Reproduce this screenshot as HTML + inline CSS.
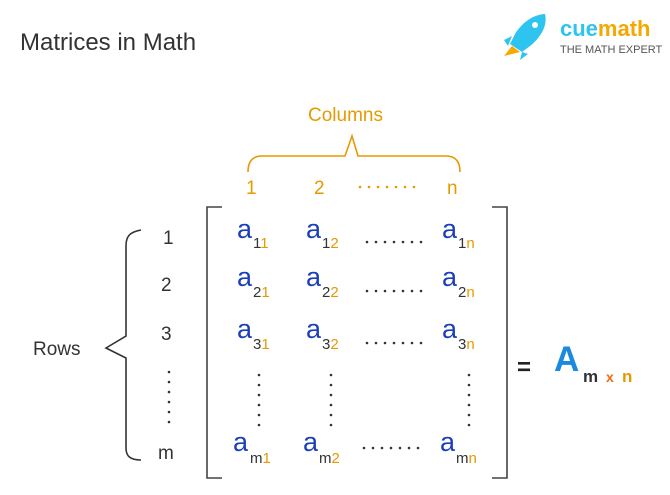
<!DOCTYPE html>
<html><head><meta charset="utf-8"><style>
html,body{margin:0;padding:0;background:#fff;}
svg{display:block}
text{font-family:"Liberation Sans",sans-serif}
</style></head><body>
<svg width="670" height="495" viewBox="0 0 670 495" xmlns="http://www.w3.org/2000/svg" xmlns:xlink="http://www.w3.org/1999/xlink">
<defs>
<g id="vd"><circle cx="0" cy="375" r="1.3"/><circle cx="0" cy="385" r="1.3"/><circle cx="0" cy="395" r="1.3"/><circle cx="0" cy="405" r="1.3"/><circle cx="0" cy="415" r="1.3"/><circle cx="0" cy="425" r="1.3"/></g>
<g id="hd"><circle cx="0" cy="0" r="1.3"/><circle cx="9" cy="0" r="1.3"/><circle cx="18" cy="0" r="1.3"/><circle cx="27" cy="0" r="1.3"/><circle cx="36" cy="0" r="1.3"/><circle cx="45" cy="0" r="1.3"/><circle cx="54" cy="0" r="1.3"/></g>
</defs>
<rect width="670" height="495" fill="#fff"/>
<text x="20" y="50" font-size="24" fill="#333">Matrices in Math</text>
<!-- logo -->
<g>
<path d="M545 14 C535 14 522 22 515 34 L510 44 L522 52 L530 46 C540 38 548 26 545 14 Z" fill="#2ec4f0"/>
<path d="M512 36 L504 40 L508 46 Z" fill="#2ec4f0"/>
<path d="M522 52 L520 60 L528 54 Z" fill="#2ec4f0"/>
<circle cx="535" cy="25" r="3" fill="#fff"/>
<path d="M512 46 L504 56 L520 52 Z" fill="#f7a800"/>
<text x="560" y="36" font-size="22" font-weight="bold" fill="#2ec4f0">cue<tspan fill="#f7a800">math</tspan></text>
<text x="560" y="53" font-size="11" fill="#555">THE MATH EXPERT</text>
</g>
<!-- Columns -->
<text x="308" y="121" font-size="19" fill="#e59a00">Columns</text>
<path d="M248 172 C248 162 252 156 262 156 L345 156 L352 136 L358 156 L446 156 C456 156 460 162 460 172" fill="none" stroke="#e59a00" stroke-width="1.6"/>
<g font-size="19" fill="#e59a00">
<text x="246" y="194">1</text><text x="314" y="194">2</text><text x="447" y="194">n</text>
</g>
<use xlink:href="#hd" href="#hd" x="360" y="187" fill="#e59a00"/>
<!-- Rows -->
<text x="33" y="355" font-size="19" fill="#333">Rows</text>
<path d="M141 230 C130 232 126 236 126 246 L126 336 L106 348 L126 358 L126 448 C126 456 130 460 141 460" fill="none" stroke="#333" stroke-width="1.6"/>
<g font-size="19" fill="#333">
<text x="163" y="244">1</text><text x="161" y="291">2</text><text x="161" y="340">3</text><text x="158" y="459">m</text>
</g>
<use xlink:href="#vd" href="#vd" x="169" y="-3" fill="#333"/>
<!-- brackets -->
<path d="M222 207 L207 207 L207 478 L222 478" fill="none" stroke="#444" stroke-width="1.6"/>
<path d="M492 207 L507 207 L507 478 L492 478" fill="none" stroke="#444" stroke-width="1.6"/>
<!-- entries -->
<g font-size="27" fill="#1a3fb8">
<text x="237" y="238">a</text><text x="306" y="238">a</text><text x="442" y="238">a</text>
<text x="237" y="286">a</text><text x="306" y="286">a</text><text x="442" y="286">a</text>
<text x="237" y="338">a</text><text x="306" y="338">a</text><text x="442" y="338">a</text>
<text x="233" y="451">a</text><text x="303" y="451">a</text><text x="440" y="451">a</text>
</g>
<g font-size="15" fill="#333">
<text x="253" y="248">1<tspan fill="#e59a00">1</tspan></text>
<text x="322" y="248">1<tspan fill="#e59a00">2</tspan></text>
<text x="458" y="248">1<tspan fill="#e59a00">n</tspan></text>
<text x="253" y="297">2<tspan fill="#e59a00">1</tspan></text>
<text x="322" y="297">2<tspan fill="#e59a00">2</tspan></text>
<text x="458" y="297">2<tspan fill="#e59a00">n</tspan></text>
<text x="253" y="349">3<tspan fill="#e59a00">1</tspan></text>
<text x="322" y="349">3<tspan fill="#e59a00">2</tspan></text>
<text x="458" y="349">3<tspan fill="#e59a00">n</tspan></text>
<text x="250" y="463">m<tspan fill="#e59a00">1</tspan></text>
<text x="319" y="463">m<tspan fill="#e59a00">2</tspan></text>
<text x="456" y="463">m<tspan fill="#e59a00">n</tspan></text>
</g>
<g fill="#333">
<use xlink:href="#hd" href="#hd" x="367" y="242"/>
<use xlink:href="#hd" href="#hd" x="367" y="291"/>
<use xlink:href="#hd" href="#hd" x="367" y="343"/>
<use xlink:href="#hd" href="#hd" x="364" y="448"/>
<use xlink:href="#vd" href="#vd" x="259"/><use xlink:href="#vd" href="#vd" x="331"/><use xlink:href="#vd" href="#vd" x="469"/>
</g>
<!-- = A -->
<text x="517" y="375" font-size="24" font-weight="bold" fill="#222">=</text>
<text x="554" y="371" font-size="35" font-weight="bold" fill="#1a8ae0">A</text>
<text x="583" y="382" font-size="17" font-weight="bold" fill="#333">m</text>
<text x="606" y="382" font-size="14" font-weight="bold" fill="#f26a10">x</text>
<text x="622" y="382" font-size="17" font-weight="bold" fill="#e59a00">n</text>
</svg>
</body></html>
